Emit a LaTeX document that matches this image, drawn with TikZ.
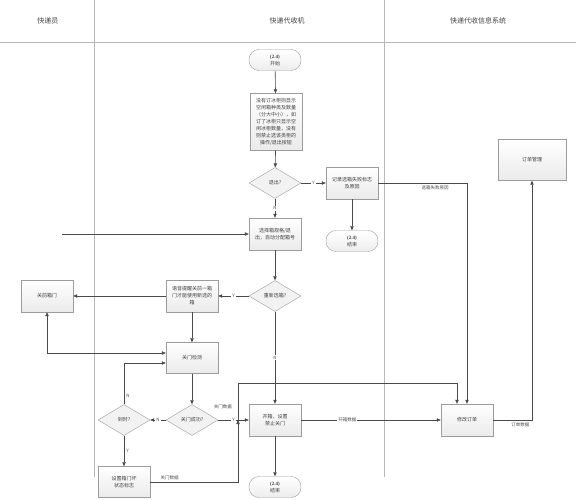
\documentclass[tikz,border=0pt]{standalone}
\usepackage{fontspec}
\setmainfont{Liberation Serif}
\newfontfamily\cjk{Noto Sans CJK SC}
\usetikzlibrary{arrows.meta,shapes.geometric,calc}
\definecolor{lineg}{HTML}{4A4A4A}
\definecolor{laneg}{HTML}{B8B8B8}
\definecolor{boxg}{HTML}{9C9C9C}

\begin{document}
\begin{tikzpicture}[x=1pt,y=-1pt,font=\cjk\fontsize{5}{7}\selectfont,
  box/.style={draw=boxg,top color=white,bottom color=gray!16,minimum width=52pt,minimum height=31pt,align=center,inner sep=1pt,text=black!75},
  term/.style={draw=boxg,rounded corners=10pt,top color=white,bottom color=gray!14,minimum width=52pt,minimum height=21pt,align=center,inner sep=1pt,text=black!75},
  dec/.style={draw=boxg,diamond,aspect=1.7,fill=gray!10,minimum width=52pt,minimum height=31pt,inner sep=0pt,align=center,text=black!75},
  lbl/.style={font=\cjk\fontsize{4.5}{5}\selectfont,text=black!70,inner sep=1pt},
  head/.style={font=\cjk\fontsize{7}{8}\selectfont,text=black!75},
  flow/.style={draw=lineg,line width=0.6pt,->},
  >={Triangle[length=4pt,width=3.4pt]}]
\useasboundingbox (0,0) rectangle (576,500);
% lanes
\draw[laneg,line width=0.6pt] (0,42) -- (576,42);
\draw[laneg,line width=0.6pt] (94,0) -- (94,477);
\draw[laneg,line width=0.6pt] (384,0) -- (384,477);
\node[head] (h1) at (48,21) {快递员};
\node[head] (h2) at (287,21) {快递代收机};
\node[head] (h3) at (478,21) {快递代收信息系统};
% nodes
\node[term] (start) at (275,60) {{\rmfamily\bfseries (2.4)}\\开始};
\node[box,minimum height=57pt] (info) at (276,122) {没有订冰柜则显示\\空闲箱种类及数量\\（分大中小），如\\订了冰柜只显示空\\闲冰柜数量，没有\\则禁止选该类柜的\\操作/退出按钮};
\node[dec] (quit) at (275,183) {退出?};
\node[box,minimum height=32pt] (rec) at (352,183) {记录选箱失败标志\\及原因};
\node[term] (end1) at (352,241) {{\rmfamily\bfseries (2.4)}\\结束};
\node[box,minimum height=32pt] (sel) at (275,234) {选择箱规格/退\\出，自动分配箱号};
\node[dec] (again) at (275,296) {重新选箱?};
\node[box,minimum height=32pt] (voice) at (192,296) {语音提醒关前一箱\\门才能使用新选的\\箱};
\node[box,minimum height=32pt] (prev) at (47,296) {关前箱门};
\node[box] (check) at (192,358) {关门检测};
\node[dec] (ok) at (192,420) {关门成功?};
\node[dec] (timeout) at (124,420) {到时?};
\node[box] (setbad) at (124,482) {设置箱门坏\\状态标志};
\node[box,minimum height=32pt] (open) at (275,420) {开箱，设置\\禁止关门};
\node[term] (end2) at (275,487) {{\rmfamily\bfseries (2.4)}\\结束};
\node[box,minimum height=32pt] (modify) at (467,420) {修改订单};
\node[box,minimum width=68pt,minimum height=41pt] (order) at (532,160) {订单管理};
\coordinate (src) at (62,234);
\coordinate (j1) at (238,482);
\coordinate (jn) at (238,420);
\coordinate (j2) at (238,383);
% connectors
\draw[flow] (start) -- (info);
\draw[flow] (info) -- (quit);
\draw[flow] (quit) -- node[lbl,fill=white]{Y} (rec);
\draw[flow] (rec) -- (end1);
\draw[flow] (rec.east) -| node[lbl,pos=0.32,below=1pt]{选箱失败原因} (modify.north);
\draw[flow] (quit) -- node[lbl,fill=white]{N} (sel);
\draw[flow] (src) -- (sel);
\draw[flow] (sel) -- (again);
\draw[flow] (again) -- node[lbl,fill=white]{Y} (voice);
\draw[flow] (voice) -- (prev);
\draw[flow] (voice) -- (check);
\draw[flow,<->] (prev.south) |- ($(check.west)+(0,-5)$);
\draw[flow] (check) -- (ok);
\draw[flow] (ok) -- node[lbl,fill=white]{N} (timeout);
\draw[flow] (timeout.north) |- node[lbl,pos=0.1,right=1pt]{N} ($(check.west)+(0,5)$);
\draw[flow] (timeout) -- node[lbl,right=1pt]{Y} (setbad);
\draw[flow] (ok) -- node[lbl,fill=white]{Y} node[lbl,pos=0.15,above=10pt]{关门数据} (open);
\draw[flow] (setbad.east) -- node[lbl,pos=0.22,above=1pt]{关门数据} (j1) -- (jn);
\draw[flow] (jn) -- (j2) -| ($(modify.north)+(-10,0)$);
\draw[flow] (again) -- node[lbl,fill=white]{N} (open);
\draw[flow] (open) -- node[lbl,pos=0.33,fill=white]{开箱数据} (modify);
\draw[flow] (open) -- (end2);
\draw[flow] (modify.east) -| node[lbl,pos=0.35,below=1pt]{订单数据} (order.south);
\end{tikzpicture}
\end{document}
